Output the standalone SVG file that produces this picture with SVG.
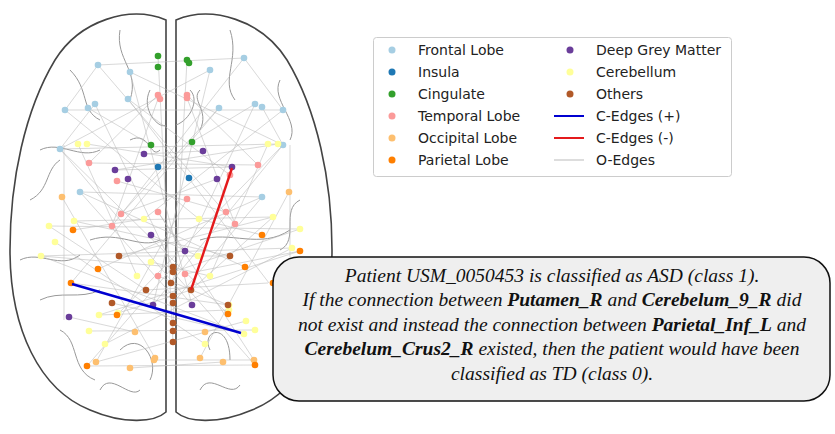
<svg xmlns="http://www.w3.org/2000/svg" width="835" height="434" viewBox="0 0 835 434">
<style>
.o{fill:none;stroke:#444;stroke-width:1.6}
.g{fill:none;stroke:#999;stroke-width:1}
.e line{stroke:#bbb;stroke-width:0.7;opacity:0.8}
.n circle{r:3.3px}
.fr{fill:#a6cee3}.in{fill:#1f78b4}.ci{fill:#33a02c}.te{fill:#fb9a99}.oc{fill:#fdbf6f}.pa{fill:#ff7f00}.dg{fill:#6a3d9a}.ce{fill:#ffff99}.ot{fill:#b15928}
.lt{font-family:"DejaVu Sans",sans-serif;font-size:14px;fill:#222}
.ct{font-family:"Liberation Serif",serif;font-style:italic;font-size:19.5px;fill:#111;text-anchor:middle}
.ct tspan.b{font-weight:bold}
</style>
<rect width="835" height="434" fill="#fff"/>
<g id="brain">
<path class="o" d="M166,20 C130,5 80,20 55,60 C25,110 10,180 10,250 C10,330 40,390 90,410 C125,425 155,422 166,412 Z"/>
<path class="o" d="M176,20 C212,5 262,20 287,60 C317,110 332,180 332,250 C332,330 302,390 252,410 C217,425 187,422 176,412 Z"/>
<path class="g" d="M30,200 C50,190 45,170 60,160 M20,260 C40,250 60,270 80,255 M40,300 C60,290 80,300 100,290 M70,70 C90,90 80,110 100,120 M120,30 C115,60 140,70 130,100 M230,30 C240,60 220,80 235,100 M280,80 C270,100 300,120 290,140 M300,200 C280,210 300,240 280,250 M120,350 C140,330 160,360 150,380 M210,350 C200,330 230,320 230,360 M60,330 C80,340 70,370 95,380 M40,150 C60,140 80,160 100,150 M200,240 C230,230 260,250 290,230 M90,240 C120,230 140,250 160,240 M130,140 C150,130 150,160 160,150 M200,130 C210,110 190,100 200,90 M150,90 C140,110 160,130 166,125 M176,125 C190,120 200,100 190,90 M100,390 C110,370 130,400 140,390 M200,390 C210,370 230,400 240,385"/>
</g>
<g id="edges" class="e">
<line x1="98" y1="65" x2="244" y2="58"/><line x1="65" y1="110" x2="283" y2="110"/><line x1="60" y1="149" x2="278" y2="144"/><line x1="80" y1="192" x2="262" y2="197"/><line x1="49" y1="226" x2="300" y2="229"/><line x1="41" y1="256" x2="292" y2="248"/><line x1="71" y1="283" x2="229" y2="305"/><line x1="89" y1="331" x2="255" y2="330"/><line x1="87" y1="366" x2="255" y2="365"/><line x1="96" y1="362" x2="246" y2="321"/><line x1="98" y1="65" x2="235" y2="224"/><line x1="244" y1="58" x2="112" y2="226"/><line x1="130" y1="72" x2="192" y2="305"/><line x1="210" y1="70" x2="153" y2="305"/><line x1="65" y1="110" x2="199" y2="219"/><line x1="283" y1="110" x2="144" y2="219"/><line x1="60" y1="149" x2="228" y2="314"/><line x1="283" y1="145" x2="117" y2="315"/><line x1="80" y1="192" x2="245" y2="267"/><line x1="262" y1="197" x2="98" y2="269"/><line x1="158" y1="56" x2="173" y2="342"/><line x1="187" y1="60" x2="173" y2="323"/><line x1="88" y1="108" x2="151" y2="145"/><line x1="255" y1="104" x2="192" y2="142"/><line x1="128" y1="99" x2="230" y2="175"/><line x1="219" y1="108" x2="121" y2="214"/><line x1="115" y1="170" x2="232" y2="167"/><line x1="89" y1="163" x2="258" y2="165"/><line x1="74" y1="221" x2="273" y2="217"/><line x1="119" y1="256" x2="230" y2="256"/><line x1="146" y1="290" x2="268" y2="283"/><line x1="112" y1="303" x2="244" y2="334"/><line x1="62" y1="197" x2="155" y2="358"/><line x1="289" y1="192" x2="200" y2="358"/><line x1="55" y1="242" x2="205" y2="344"/><line x1="292" y1="248" x2="105" y2="344"/><line x1="78" y1="144" x2="137" y2="276"/><line x1="268" y1="144" x2="210" y2="276"/><line x1="95" y1="104" x2="60" y2="149"/><line x1="262" y1="107" x2="283" y2="145"/><line x1="144" y1="154" x2="203" y2="151"/><line x1="117" y1="181" x2="226" y2="212"/><line x1="121" y1="214" x2="217" y2="179"/><line x1="158" y1="212" x2="185" y2="251"/><line x1="151" y1="235" x2="198" y2="256"/><line x1="151" y1="262" x2="210" y2="276"/><line x1="158" y1="276" x2="228" y2="305"/><line x1="99" y1="315" x2="229" y2="310"/><line x1="118" y1="313" x2="191" y2="290"/><line x1="69" y1="317" x2="135" y2="332"/><line x1="130" y1="368" x2="223" y2="362"/><line x1="154" y1="360" x2="254" y2="360"/><line x1="73" y1="230" x2="144" y2="219"/><line x1="262" y1="235" x2="199" y2="219"/><line x1="300" y1="251" x2="185" y2="274"/><line x1="98" y1="65" x2="65" y2="110"/><line x1="244" y1="58" x2="283" y2="110"/><line x1="130" y1="72" x2="283" y2="145"/><line x1="210" y1="70" x2="60" y2="149"/><line x1="158" y1="95" x2="89" y2="163"/><line x1="187" y1="95" x2="258" y2="165"/><line x1="158" y1="99" x2="112" y2="226"/><line x1="187" y1="98" x2="235" y2="224"/><line x1="41" y1="256" x2="173" y2="267"/><line x1="300" y1="229" x2="173" y2="272"/><line x1="49" y1="226" x2="146" y2="290"/><line x1="273" y1="217" x2="191" y2="290"/><line x1="80" y1="192" x2="173" y2="296"/><line x1="262" y1="197" x2="173" y2="303"/><line x1="87" y1="144" x2="232" y2="167"/><line x1="278" y1="144" x2="115" y2="170"/><line x1="64" y1="145" x2="64" y2="320"/><line x1="290" y1="145" x2="290" y2="320"/>
<line x1="128" y1="99" x2="269" y2="283"/><line x1="219" y1="108" x2="71" y2="283"/><line x1="95" y1="104" x2="173" y2="267"/><line x1="255" y1="104" x2="171" y2="283"/><line x1="60" y1="149" x2="192" y2="305"/><line x1="283" y1="145" x2="153" y2="305"/><line x1="41" y1="256" x2="244" y2="334"/><line x1="300" y1="251" x2="99" y2="315"/><line x1="74" y1="221" x2="230" y2="256"/><line x1="273" y1="217" x2="119" y2="256"/><line x1="87" y1="366" x2="173" y2="267"/><line x1="255" y1="365" x2="173" y2="272"/><line x1="96" y1="362" x2="187" y2="199"/><line x1="254" y1="360" x2="158" y2="212"/>
</g>
<g id="nodes" class="n">
<g class="fr"><circle cx="98" cy="65"/><circle cx="130" cy="72"/><circle cx="210" cy="70"/><circle cx="244" cy="58"/><circle cx="65" cy="110"/><circle cx="88" cy="108"/><circle cx="95" cy="104"/><circle cx="128" cy="99"/><circle cx="219" cy="108"/><circle cx="255" cy="104"/><circle cx="262" cy="107"/><circle cx="283" cy="110"/><circle cx="60" cy="149"/><circle cx="283" cy="145"/><circle cx="80" cy="192"/><circle cx="262" cy="197"/></g>
<g class="ci"><circle cx="158" cy="56"/><circle cx="158" cy="67"/><circle cx="187" cy="60"/><circle cx="189" cy="63"/><circle cx="151" cy="145"/><circle cx="192" cy="142"/></g>
<g class="te"><circle cx="158" cy="95"/><circle cx="160" cy="99"/><circle cx="187" cy="95"/><circle cx="187" cy="98"/><circle cx="258" cy="165"/><circle cx="89" cy="163"/><circle cx="117" cy="181"/><circle cx="230" cy="175"/><circle cx="187" cy="199"/><circle cx="121" cy="214"/><circle cx="158" cy="212"/><circle cx="226" cy="212"/><circle cx="235" cy="224"/><circle cx="112" cy="226"/><circle cx="158" cy="276"/><circle cx="185" cy="274"/></g>
<g class="in"><circle cx="158" cy="167"/><circle cx="189" cy="178"/></g>
<g class="ce"><circle cx="78" cy="144"/><circle cx="87" cy="144"/><circle cx="268" cy="144"/><circle cx="278" cy="144"/><circle cx="74" cy="221"/><circle cx="49" cy="226"/><circle cx="55" cy="242"/><circle cx="144" cy="219"/><circle cx="199" cy="219"/><circle cx="273" cy="217"/><circle cx="300" cy="229"/><circle cx="292" cy="248"/><circle cx="41" cy="256"/><circle cx="198" cy="256"/><circle cx="151" cy="262"/><circle cx="137" cy="276"/><circle cx="210" cy="276"/><circle cx="99" cy="315"/><circle cx="118" cy="313"/><circle cx="229" cy="305"/><circle cx="229" cy="310"/><circle cx="246" cy="321"/><circle cx="255" cy="330"/><circle cx="89" cy="331"/><circle cx="244" cy="334"/><circle cx="105" cy="344"/><circle cx="205" cy="344"/></g>
<g class="oc"><circle cx="62" cy="197"/><circle cx="289" cy="192"/><circle cx="135" cy="332"/><circle cx="205" cy="332"/><circle cx="155" cy="358"/><circle cx="154" cy="360"/><circle cx="200" cy="358"/><circle cx="96" cy="362"/><circle cx="130" cy="368"/><circle cx="223" cy="362"/><circle cx="254" cy="360"/></g>
<g class="pa"><circle cx="73" cy="230"/><circle cx="262" cy="235"/><circle cx="300" cy="251"/><circle cx="98" cy="269"/><circle cx="245" cy="267"/><circle cx="71" cy="283"/><circle cx="117" cy="315"/><circle cx="228" cy="314"/><circle cx="87" cy="366"/><circle cx="255" cy="365"/><circle cx="273" cy="283"/></g>
<g class="ot"><circle cx="119" cy="256"/><circle cx="230" cy="256"/><circle cx="173" cy="267"/><circle cx="173" cy="272"/><circle cx="171" cy="283"/><circle cx="146" cy="290"/><circle cx="191" cy="290"/><circle cx="173" cy="296"/><circle cx="173" cy="303"/><circle cx="112" cy="303"/><circle cx="228" cy="305"/><circle cx="173" cy="323"/><circle cx="173" cy="331"/><circle cx="173" cy="342"/></g>
<g class="dg"><circle cx="144" cy="154"/><circle cx="203" cy="151"/><circle cx="232" cy="167"/><circle cx="115" cy="170"/><circle cx="128" cy="179"/><circle cx="217" cy="179"/><circle cx="151" cy="235"/><circle cx="185" cy="251"/><circle cx="153" cy="305"/><circle cx="192" cy="305"/><circle cx="69" cy="317"/></g>
</g>
<g id="cedges">
<line x1="191" y1="290" x2="232" y2="168" stroke="#e41a1c" stroke-width="2.4"/>
<line x1="72" y1="284" x2="241" y2="333" stroke="#0000d0" stroke-width="2.4"/>
</g>
<g id="legend">
<rect x="373.5" y="37.5" width="358" height="139" rx="3" fill="#fff" stroke="#ccc"/>
<circle cx="392" cy="50" r="3.5" class="fr"/><text class="lt" x="418" y="55">Frontal Lobe</text>
<circle cx="392" cy="72" r="3.5" class="in"/><text class="lt" x="418" y="77">Insula</text>
<circle cx="392" cy="94" r="3.5" class="ci"/><text class="lt" x="418" y="99">Cingulate</text>
<circle cx="392" cy="116" r="3.5" class="te"/><text class="lt" x="418" y="121">Temporal Lobe</text>
<circle cx="392" cy="138" r="3.5" class="oc"/><text class="lt" x="418" y="143">Occipital Lobe</text>
<circle cx="392" cy="160" r="3.5" class="pa"/><text class="lt" x="418" y="165">Parietal Lobe</text>
<circle cx="570" cy="50" r="3.5" class="dg"/><text class="lt" x="596" y="55">Deep Grey Matter</text>
<circle cx="570" cy="72" r="3.5" class="ce"/><text class="lt" x="596" y="77">Cerebellum</text>
<circle cx="570" cy="94" r="3.5" class="ot"/><text class="lt" x="596" y="99">Others</text>
<line x1="554" y1="116" x2="584" y2="116" stroke="#0000d0" stroke-width="2"/><text class="lt" x="596" y="121">C-Edges (+)</text>
<line x1="554" y1="138" x2="584" y2="138" stroke="#e41a1c" stroke-width="2"/><text class="lt" x="596" y="143">C-Edges (-)</text>
<line x1="554" y1="160" x2="584" y2="160" stroke="#ddd" stroke-width="2"/><text class="lt" x="596" y="165">O-Edges</text>
</g>
<g id="callout">
<rect x="273" y="257" width="557" height="144" rx="26" fill="#efefef" stroke="#111" stroke-width="1.5"/>
<text class="ct" x="552" y="282">Patient USM_0050453 is classified as ASD (class 1).</text>
<text class="ct" x="552" y="306">If the connection between <tspan class="b">Putamen_R</tspan> and <tspan class="b">Cerebelum_9_R</tspan> did</text>
<text class="ct" x="552" y="331">not exist and instead the connection between <tspan class="b">Parietal_Inf_L</tspan> and</text>
<text class="ct" x="552" y="355"><tspan class="b">Cerebelum_Crus2_R</tspan> existed, then the patient would have been</text>
<text class="ct" x="552" y="380">classified as TD (class 0).</text>
</g>
</svg>
